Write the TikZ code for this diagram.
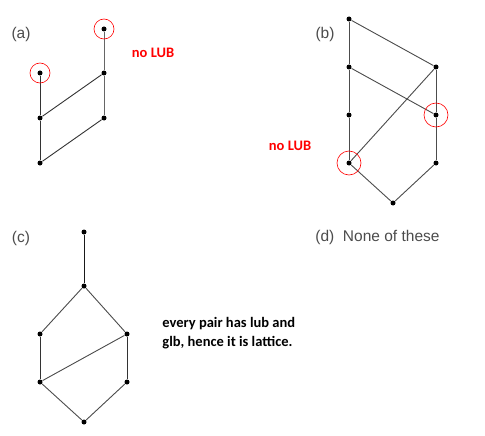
\documentclass[tikz,border=0pt]{standalone}
\usepackage{fontspec}
\newfontfamily\lblfont{Liberation Sans}
\newfontfamily\notefont{Carlito}
\begin{document}
\begin{tikzpicture}[x=1pt,y=-1pt,line width=0.9pt,
  dot/.style={circle, inner sep=0pt, minimum size=5pt, fill},
  lbl/.style={font=\fontsize{15.5}{18}\selectfont\lblfont, text=black!70, inner sep=0pt},
  note/.style={font=\fontsize{14.5}{19}\selectfont\notefont\bfseries, inner sep=0pt}]
\useasboundingbox[fill=white] (0,0) rectangle (485,436);
% (a)
\node[lbl] (la) at (21,34){(a)};
\node[dot] (a0) at (40,163){};
\node[dot] (a1) at (40,118){};
\node[dot] (a2) at (40,73){};
\node[dot] (a3) at (104,118){};
\node[dot] (a4) at (104,73){};
\node[dot] (a5) at (104,29){};
\draw[black!80](a0) -- (a1);
\draw[black!80](a1) -- (a2);
\draw[black!60](a3) -- (a4);
\draw[black!60](a4) -- (a5);
\draw[black!80](a1) -- (a4);
\draw[black!80](a0) -- (a3);
\draw[red, line width=0.6pt](a2) circle[radius=10pt];
\draw[red, line width=0.6pt](a5) circle[radius=10pt];
\node[note, red] (nla) at (153,53){no LUB};
% (b)
\node[lbl] (lb) at (325,34){(b)};
\node[dot] (b0) at (393,203){};
\node[dot] (b1) at (349,163){};
\node[dot] (b2) at (349,115){};
\node[dot] (b3) at (349,67){};
\node[dot] (b4) at (349,19){};
\node[dot] (b5) at (436,163){};
\node[dot] (b6) at (436,115){};
\node[dot] (b7) at (436,67){};
\draw[black!70](b0) -- (b1);
\draw[black!70](b0) -- (b5);
\draw[black!70](b1) -- (b2);
\draw[black!70](b2) -- (b3);
\draw[black!70](b3) -- (b4);
\draw[black!70](b5) -- (b6);
\draw[black!70](b6) -- (b7);
\draw[black!70](b4) -- (b7);
\draw[black!70](b3) -- (b6);
\draw[black!70](b1) -- (b7);
\draw[red, line width=0.6pt](b1) circle[radius=12pt];
\draw[red, line width=0.6pt](b6) circle[radius=12pt];
\node[note, red] (nlb) at (290,146){no LUB};
% (c)
\node[lbl] (lc) at (21,238){(c)};
\node[dot] (c0) at (84,422){};
\node[dot] (c1) at (40,382){};
\node[dot] (c2) at (127,382){};
\node[dot] (c3) at (40,334){};
\node[dot] (c4) at (127,334){};
\node[dot] (c5) at (84,286){};
\node[dot] (c6) at (84,232){};
\draw[black!70](c0) -- (c1);
\draw[black!70](c0) -- (c2);
\draw[black!80](c1) -- (c3);
\draw[black!80](c2) -- (c4);
\draw[black!70](c1) -- (c4);
\draw[black!70](c3) -- (c5);
\draw[black!70](c4) -- (c5);
\draw[black!90](c5) -- (c6);
\node[note, anchor=west, align=left] (nc) at (162,333){every pair has lub and\\glb, hence it is lattice.};
% (d)
\node[lbl, anchor=west] (ld) at (315,237){(d)\ \ None of these};
\end{tikzpicture}
\end{document}
